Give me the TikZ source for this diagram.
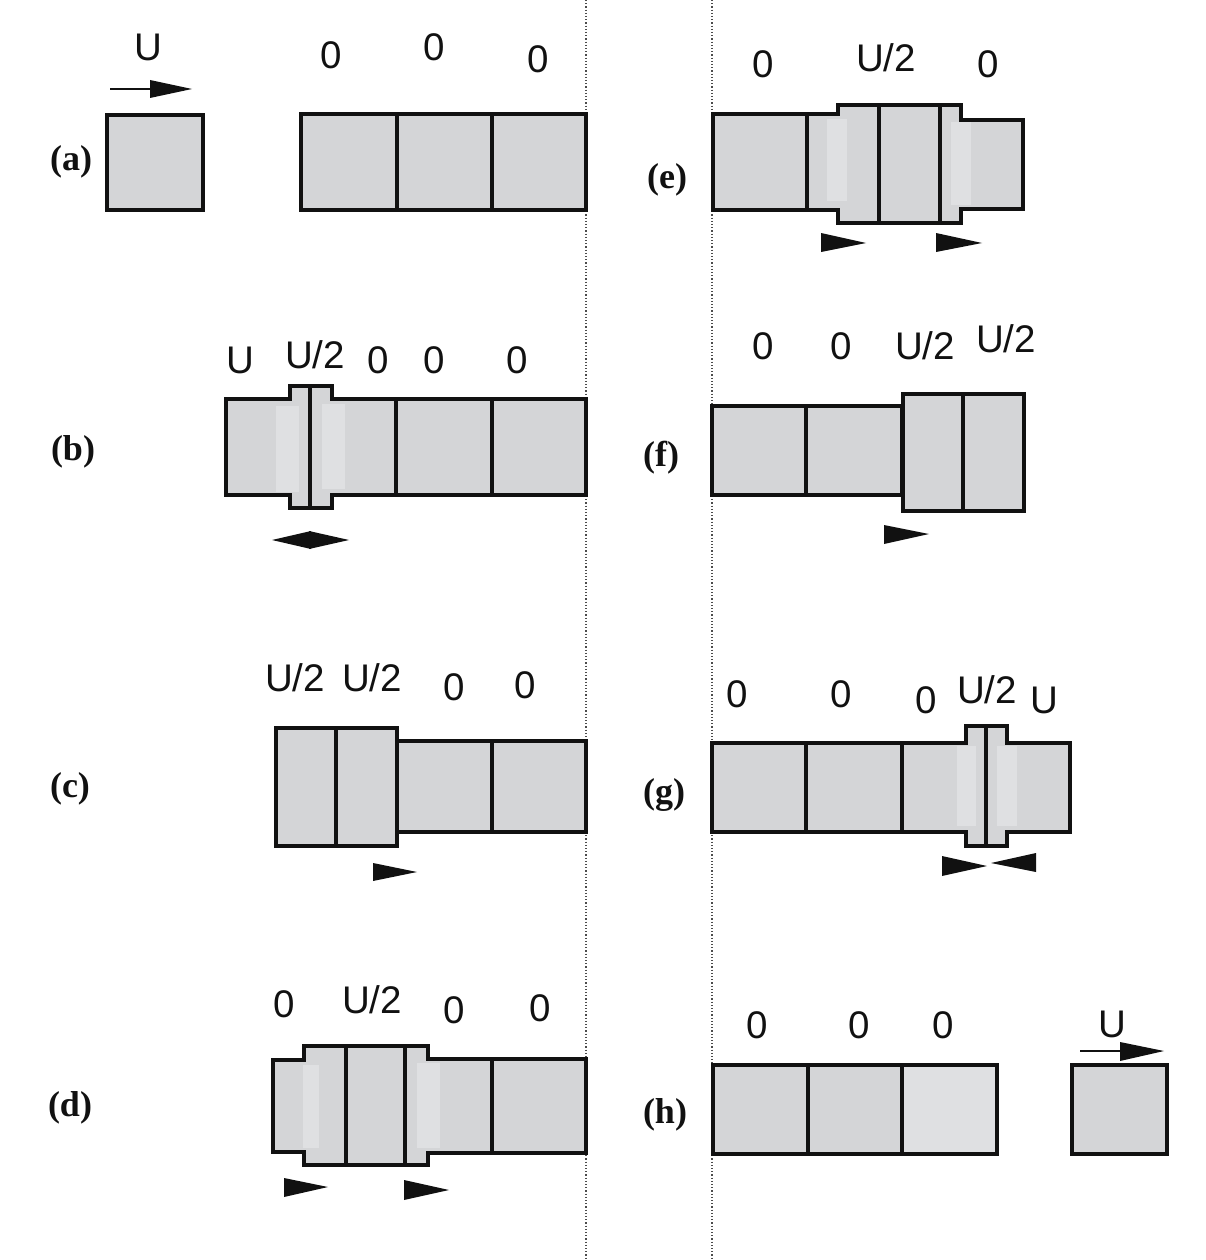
\documentclass[tikz,border=0pt]{standalone}
\usepackage{fontspec}
\setmainfont{Liberation Serif}
\newfontfamily\labfont{Liberation Sans}
\definecolor{blkfill}{HTML}{D4D5D7}
\definecolor{lite}{HTML}{DFE0E2}
\definecolor{ink}{HTML}{111111}
\begin{document}
\begin{tikzpicture}[x=1pt,y=-1pt,
  edge/.style={draw=ink, line width=3.3pt, line join=miter},
  divider/.style={draw=ink, line width=3.3pt},
  val/.style={font=\labfont\fontsize{38.5}{40}\selectfont, inner sep=0pt, text=ink},
  panel/.style={font=\bfseries\fontsize{36}{38}\selectfont, inner sep=0pt, text=ink},
  sep/.style={draw=ink!75, dotted, line width=1.2pt},
  head/.style={fill=ink}]
\useasboundingbox (0,0) rectangle (1206,1260);
\fill[white] (0,0) rectangle (1206,1260);
% separators
\coordinate (s1t) at (586,0); \coordinate (s1b) at (586,1260);
\coordinate (s2t) at (712,0); \coordinate (s2b) at (712,1260);
\draw[sep] (s1t) -- (s1b);
\draw[sep] (s2t) -- (s2b);

% ---------- (a)
\node[panel] (pa) at (71,162) {(a)};
\fill[blkfill] (107,115) rectangle (203,210);
\draw[edge] (107,115) rectangle (203,210);
\fill[blkfill] (301,114) rectangle (586,210);
\draw[edge] (301,114) rectangle (586,210);
\draw[divider] (397,114) -- (397,210);
\draw[divider] (492,114) -- (492,210);
\coordinate (aa0) at (110,89); \coordinate (aa1) at (151,89);
\draw[ink, line width=2.2pt] (aa0) -- (aa1);
\fill[head] (150,80) -- (192,89) -- (150,98) -- cycle;
\node[val] (aU) at (148,47) {U};
\node[val] (a1) at (331,55) {0};
\node[val] (a2) at (434,47) {0};
\node[val] (a3) at (538,59) {0};

% ---------- (b)
\node[panel] (pb) at (73,452) {(b)};
\fill[blkfill] (226,399) -- (290,399) -- (290,386) -- (332,386) -- (332,399) -- (586,399) -- (586,495) -- (332,495) -- (332,508) -- (290,508) -- (290,495) -- (226,495) -- cycle;
\fill[lite] (276,406) rectangle (299,492);
\fill[lite] (322,404) rectangle (345,489);
\draw[edge] (226,399) -- (290,399) -- (290,386) -- (332,386) -- (332,399) -- (586,399) -- (586,495) -- (332,495) -- (332,508) -- (290,508) -- (290,495) -- (226,495) -- cycle;
\draw[divider] (310,386) -- (310,508);
\draw[divider] (396,399) -- (396,495);
\draw[divider] (492,399) -- (492,495);
\fill[head] (311,531) -- (272,540) -- (311,549) -- cycle;
\fill[head] (309,531) -- (349,540) -- (309,549) -- cycle;
\node[val] (bU) at (240,360) {U};
\node[val] (b2) at (315,355) {U/2};
\node[val] (b3) at (378,360) {0};
\node[val] (b4) at (434,360) {0};
\node[val] (b5) at (517,360) {0};

% ---------- (c)
\node[panel] (pc) at (70,789) {(c)};
\fill[blkfill] (397,741) rectangle (586,832);
\draw[edge] (397,741) rectangle (586,832);
\draw[divider] (492,741) -- (492,832);
\fill[blkfill] (276,728) rectangle (397,846);
\draw[edge] (276,728) rectangle (397,846);
\draw[divider] (336,728) -- (336,846);
\fill[head] (373,863) -- (417,872) -- (373,881) -- cycle;
\node[val] (c1) at (295,678) {U/2};
\node[val] (c2) at (372,678) {U/2};
\node[val] (c3) at (454,687) {0};
\node[val] (c4) at (525,685) {0};

% ---------- (d)
\node[panel] (pd) at (70,1108) {(d)};
\fill[blkfill] (273,1060) -- (304,1060) -- (304,1046) -- (428,1046) -- (428,1059) -- (586,1059) -- (586,1153) -- (428,1153) -- (428,1165) -- (304,1165) -- (304,1152) -- (273,1152) -- cycle;
\fill[lite] (303,1065) rectangle (319,1148);
\fill[lite] (417,1063) rectangle (440,1148);
\draw[edge] (273,1060) -- (304,1060) -- (304,1046) -- (428,1046) -- (428,1059) -- (586,1059) -- (586,1153) -- (428,1153) -- (428,1165) -- (304,1165) -- (304,1152) -- (273,1152) -- cycle;
\draw[divider] (346,1046) -- (346,1165);
\draw[divider] (405,1046) -- (405,1165);
\draw[divider] (492,1059) -- (492,1153);
\fill[head] (284,1178) -- (328,1187) -- (284,1197) -- cycle;
\fill[head] (404,1180) -- (449,1190) -- (404,1200) -- cycle;
\node[val] (d1) at (284,1004) {0};
\node[val] (d2) at (372,1000) {U/2};
\node[val] (d3) at (454,1010) {0};
\node[val] (d4) at (540,1008) {0};

% ---------- (e)
\node[panel] (pe) at (667,180) {(e)};
\fill[blkfill] (713,114) -- (838,114) -- (838,105) -- (961,105) -- (961,120) -- (1023,120) -- (1023,209) -- (961,209) -- (961,223) -- (838,223) -- (838,210) -- (713,210) -- cycle;
\fill[lite] (827,119) rectangle (847,201);
\fill[lite] (951,122) rectangle (971,205);
\draw[edge] (713,114) -- (838,114) -- (838,105) -- (961,105) -- (961,120) -- (1023,120) -- (1023,209) -- (961,209) -- (961,223) -- (838,223) -- (838,210) -- (713,210) -- cycle;
\draw[divider] (807,114) -- (807,210);
\draw[divider] (879,105) -- (879,223);
\draw[divider] (940,105) -- (940,223);
\fill[head] (821,233) -- (866,243) -- (821,252) -- cycle;
\fill[head] (936,233) -- (982,243) -- (936,252) -- cycle;
\node[val] (e1) at (763,64) {0};
\node[val] (e2) at (886,58) {U/2};
\node[val] (e3) at (988,64) {0};

% ---------- (f)
\node[panel] (pf) at (661,458) {(f)};
\fill[blkfill] (712,406) rectangle (902,495);
\draw[edge] (712,406) rectangle (902,495);
\draw[divider] (806,406) -- (806,495);
\fill[blkfill] (903,394) rectangle (1024,511);
\draw[edge] (903,394) rectangle (1024,511);
\draw[divider] (963,394) -- (963,511);
\fill[head] (884,525) -- (929,534) -- (884,544) -- cycle;
\node[val] (f1) at (763,346) {0};
\node[val] (f2) at (841,346) {0};
\node[val] (f3) at (925,346) {U/2};
\node[val] (f4) at (1006,339) {U/2};

% ---------- (g)
\node[panel] (pg) at (664,795) {(g)};
\fill[blkfill] (712,743) -- (966,743) -- (966,726) -- (1007,726) -- (1007,743) -- (1070,743) -- (1070,832) -- (1007,832) -- (1007,846) -- (966,846) -- (966,832) -- (712,832) -- cycle;
\fill[lite] (957,746) rectangle (976,826);
\fill[lite] (997,746) rectangle (1017,826);
\draw[edge] (712,743) -- (966,743) -- (966,726) -- (1007,726) -- (1007,743) -- (1070,743) -- (1070,832) -- (1007,832) -- (1007,846) -- (966,846) -- (966,832) -- (712,832) -- cycle;
\draw[divider] (806,743) -- (806,832);
\draw[divider] (902,743) -- (902,832);
\draw[divider] (986,726) -- (986,846);
\fill[head] (942,856) -- (987,866) -- (942,876) -- cycle;
\fill[head] (1036,853) -- (991,863) -- (1036,872) -- cycle;
\node[val] (g1) at (737,694) {0};
\node[val] (g2) at (841,694) {0};
\node[val] (g3) at (926,700) {0};
\node[val] (g4) at (987,690) {U/2};
\node[val] (g5) at (1044,700) {U};

% ---------- (h)
\node[panel] (ph) at (665,1115) {(h)};
\fill[blkfill] (713,1065) rectangle (902,1154);
\fill[lite] (902,1065) rectangle (997,1154);
\draw[edge] (713,1065) rectangle (997,1154);
\draw[divider] (808,1065) -- (808,1154);
\draw[divider] (902,1065) -- (902,1154);
\fill[blkfill] (1072,1065) rectangle (1167,1154);
\draw[edge] (1072,1065) rectangle (1167,1154);
\coordinate (ha0) at (1080,1051); \coordinate (ha1) at (1121,1051);
\draw[ink, line width=2.2pt] (ha0) -- (ha1);
\fill[head] (1120,1042) -- (1164,1051) -- (1120,1061) -- cycle;
\node[val] (hU) at (1112,1024) {U};
\node[val] (h1) at (757,1025) {0};
\node[val] (h2) at (859,1025) {0};
\node[val] (h3) at (943,1025) {0};
\end{tikzpicture}
\end{document}
